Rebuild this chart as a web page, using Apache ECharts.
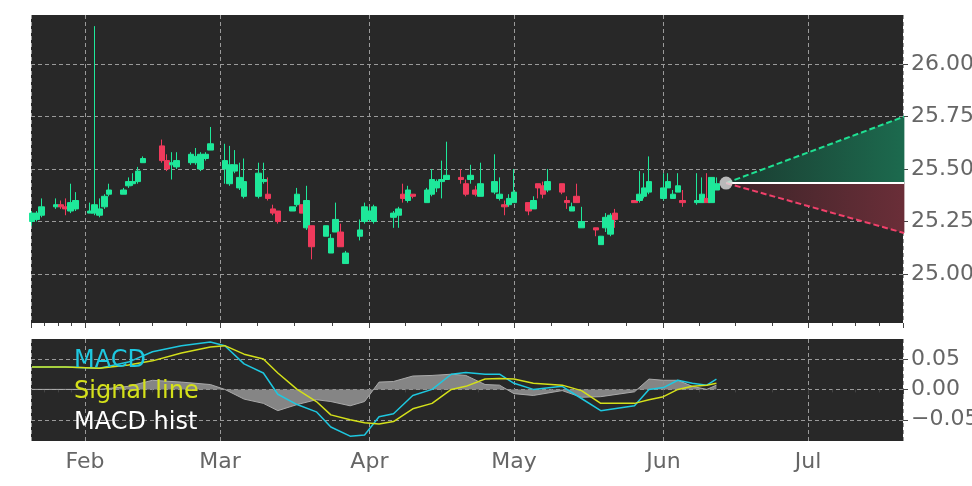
<!DOCTYPE html>
<html><head><meta charset="utf-8">
<script src="https://cdn.jsdelivr.net/npm/echarts@6/dist/echarts.min.js"></script>
<style>html,body{margin:0;padding:0;background:#fff}#c{width:972px;height:486px}</style>
</head><body><div id="c"></div>
<script>
const candleDates = ['2023-01-21','2023-01-22','2023-01-23','2023-01-26','2023-01-27','2023-01-28','2023-01-29','2023-01-30','2023-02-02','2023-02-03','2023-02-04','2023-02-05','2023-02-06','2023-02-09','2023-02-10','2023-02-11','2023-02-12','2023-02-13','2023-02-17','2023-02-18','2023-02-19','2023-02-20','2023-02-23','2023-02-24','2023-02-25','2023-02-26','2023-02-27','2023-03-02','2023-03-03','2023-03-04','2023-03-05','2023-03-06','2023-03-09','2023-03-10','2023-03-11','2023-03-12','2023-03-13','2023-03-16','2023-03-17','2023-03-18','2023-03-19','2023-03-20','2023-03-23','2023-03-24','2023-03-25','2023-03-26','2023-03-27','2023-03-30','2023-03-31','2023-04-01','2023-04-02','2023-04-06','2023-04-07','2023-04-08','2023-04-09','2023-04-10','2023-04-13','2023-04-14','2023-04-15','2023-04-16','2023-04-17','2023-04-20','2023-04-21','2023-04-22','2023-04-23','2023-04-24','2023-04-27','2023-04-28','2023-04-29','2023-04-30','2023-05-01','2023-05-04','2023-05-05','2023-05-06','2023-05-07','2023-05-08','2023-05-11','2023-05-12','2023-05-13','2023-05-14','2023-05-15','2023-05-18','2023-05-19','2023-05-20','2023-05-21','2023-05-22','2023-05-26','2023-05-27','2023-05-28','2023-05-29','2023-06-01','2023-06-02','2023-06-03','2023-06-04','2023-06-05','2023-06-08','2023-06-09','2023-06-10','2023-06-11','2023-06-12'];
// [open, close, low, high]
const ohlc = [[25.25,25.29,25.23,25.30],[25.26,25.29,25.25,25.30],[25.28,25.32,25.27,25.36],[25.32,25.33,25.31,25.36],[25.33,25.32,25.31,25.35],[25.32,25.31,25.28,25.36],[25.30,25.34,25.29,25.43],[25.31,25.35,25.30,25.39],[25.29,25.30,25.29,25.34],[25.29,25.33,25.28,26.18],[25.28,25.31,25.27,25.36],[25.32,25.37,25.31,25.38],[25.38,25.40,25.37,25.43],[25.38,25.40,25.38,25.41],[25.42,25.44,25.41,25.46],[25.43,25.44,25.42,25.48],[25.44,25.49,25.43,25.51],[25.53,25.55,25.53,25.56],[25.61,25.54,25.53,25.64],[25.54,25.50,25.49,25.57],[25.52,25.53,25.45,25.58],[25.51,25.54,25.50,25.58],[25.53,25.57,25.52,25.58],[25.53,25.56,25.52,25.60],[25.50,25.57,25.49,25.58],[25.55,25.57,25.54,25.58],[25.59,25.62,25.59,25.70],[25.50,25.54,25.43,25.62],[25.43,25.52,25.42,25.61],[25.49,25.52,25.48,25.59],[25.41,25.46,25.40,25.53],[25.37,25.44,25.36,25.55],[25.37,25.48,25.36,25.53],[25.44,25.45,25.43,25.53],[25.38,25.36,25.35,25.46],[25.31,25.29,25.28,25.33],[25.30,25.25,25.24,25.30],[25.30,25.32,25.30,25.32],[25.33,25.38,25.32,25.41],[25.33,25.29,25.29,25.33],[25.22,25.35,25.21,25.42],[25.23,25.13,25.07,25.23],[25.18,25.23,25.18,25.23],[25.10,25.17,25.10,25.19],[25.20,25.26,25.20,25.34],[25.20,25.13,25.13,25.24],[25.05,25.10,25.05,25.11],[25.18,25.21,25.16,25.26],[25.25,25.32,25.24,25.34],[25.26,25.30,25.25,25.32],[25.25,25.32,25.24,25.33],[25.27,25.29,25.22,25.30],[25.28,25.31,25.22,25.32],[25.38,25.36,25.34,25.43],[25.35,25.40,25.34,25.42],[25.38,25.37,25.36,25.38],[25.34,25.40,25.34,25.41],[25.38,25.45,25.37,25.50],[25.41,25.44,25.39,25.45],[25.44,25.45,25.36,25.54],[25.45,25.47,25.45,25.63],[25.46,25.45,25.43,25.50],[25.43,25.38,25.37,25.45],[25.45,25.47,25.43,25.52],[25.40,25.38,25.37,25.42],[25.37,25.43,25.37,25.53],[25.39,25.44,25.38,25.57],[25.36,25.38,25.35,25.46],[25.33,25.32,25.28,25.35],[25.33,25.36,25.32,25.38],[25.34,25.39,25.34,25.50],[25.34,25.30,25.28,25.34],[25.31,25.35,25.31,25.37],[25.43,25.41,25.36,25.43],[25.42,25.38,25.36,25.44],[25.40,25.44,25.39,25.50],[25.43,25.39,25.38,25.43],[25.35,25.34,25.31,25.37],[25.30,25.32,25.30,25.34],[25.37,25.34,25.34,25.43],[25.22,25.25,25.22,25.32],[25.22,25.21,25.18,25.22],[25.14,25.18,25.14,25.18],[25.22,25.27,25.20,25.29],[25.19,25.28,25.18,25.29],[25.29,25.26,25.22,25.31],[25.35,25.34,25.34,25.35],[25.35,25.38,25.34,25.49],[25.37,25.41,25.36,25.48],[25.39,25.44,25.38,25.56],[25.36,25.41,25.35,25.48],[25.41,25.44,25.41,25.48],[25.36,25.38,25.36,25.40],[25.39,25.42,25.39,25.48],[25.35,25.34,25.32,25.40],[25.34,25.35,25.33,25.48],[25.34,25.38,25.34,25.46],[25.36,25.34,25.34,25.48],[25.34,25.46,25.34,25.46],[25.40,25.43,25.40,25.46]];
const macdDates = ['2023-01-21','2023-01-28','2023-02-04','2023-02-10','2023-02-15','2023-02-21','2023-02-27','2023-03-02','2023-03-06','2023-03-10','2023-03-13','2023-03-17','2023-03-21','2023-03-24','2023-03-28','2023-03-31','2023-04-03','2023-04-06','2023-04-10','2023-04-14','2023-04-18','2023-04-21','2023-04-25','2023-04-28','2023-05-01','2023-05-05','2023-05-11','2023-05-15','2023-05-19','2023-05-26','2023-05-29','2023-06-01','2023-06-04','2023-06-07','2023-06-10','2023-06-12'];
const macdVals = [0.037,0.037,0.035,0.045,0.062,0.072,0.078,0.072,0.042,0.027,-0.008,-0.025,-0.037,-0.062,-0.077,-0.075,-0.045,-0.040,-0.010,0.000,0.025,0.028,0.025,0.025,0.010,0.000,0.005,-0.015,-0.035,-0.027,0.000,0.003,0.015,0.010,0.007,0.017];
const signalVals = [0.037,0.037,0.035,0.040,0.047,0.060,0.070,0.072,0.058,0.050,0.027,0.000,-0.020,-0.042,-0.050,-0.055,-0.057,-0.053,-0.032,-0.023,0.000,0.005,0.017,0.018,0.017,0.010,0.007,-0.002,-0.023,-0.023,-0.017,-0.012,0.000,0.005,0.007,0.010];
const histVals = [0,0,0,0.005,0.015,0.012,0.008,0,-0.016,-0.023,-0.035,-0.025,-0.017,-0.020,-0.027,-0.020,0.012,0.013,0.022,0.023,0.025,0.023,0.008,0.007,-0.007,-0.010,-0.002,-0.013,-0.012,-0.004,0.017,0.015,0.015,0.005,0,0.007];
const projDates = ['2023-06-14','2023-07-21'];
const lastClose = 25.433;
const projUp = [25.433, 25.75];
const projDown = [25.433, 25.195];
const priceTicks = [25.0, 25.25, 25.5, 25.75, 26.0];
const macdTicks = [-0.05, 0, 0.05];

const xMin = '2023-01-20T19:00:00', xMax = '2023-07-20T17:00:00';
const gridLine = {show:true, lineStyle:{color:'#9a9a9a', type:[4,3], width:1}};
const xCommon = {type:'time', min:xMin, max:xMax, minInterval:28*864e5, maxInterval:31*864e5,
  axisLine:{show:false}, axisTick:{show:true, lineStyle:{color:'#444'}, length:5},
  minorTick:{show:true, splitNumber:4, length:3, lineStyle:{color:'#444'}},
  splitLine:gridLine};
const labelFont = {color:'#666', fontSize:22, fontFamily:'DejaVu Sans'};
const chart = echarts.init(document.getElementById('c'));
const pair = (d,v)=>d.map((x,i)=>[x,v[i]]);
function tri(vals, c0, c1){
  return {type:'custom', xAxisIndex:0, yAxisIndex:0, silent:true, z:1,
    data:[0],
    renderItem:(p,api)=>{
      const a=api.coord([projDates[0],lastClose]), b=api.coord([projDates[1],vals[1]]), c=api.coord([projDates[1],lastClose]);
      return {type:'polygon', shape:{points:[a,b,c]}, style:{fill:new echarts.graphic.LinearGradient(0,0,1,0,[{offset:0,color:c0},{offset:1,color:c1}])}};
    }};
}
chart.setOption({
  animation:false, backgroundColor:'#fff',
  grid:[{left:31,right:69,top:15,height:308,backgroundColor:'#282828',show:true,borderWidth:0,containLabel:false,outerBoundsMode:'none'},
        {left:31,right:69,top:339,height:102,backgroundColor:'#282828',show:true,borderWidth:0,containLabel:false,outerBoundsMode:'none'}],
  xAxis:[Object.assign({gridIndex:0, axisLabel:{show:false}}, xCommon),
         Object.assign({gridIndex:1, axisLabel:Object.assign({show:true, formatter:'{MMM}', margin:10}, labelFont)}, xCommon)],
  yAxis:[{gridIndex:0, position:'right', min:24.767, max:26.233, axisLine:{show:false},
          axisTick:{show:true, customValues:priceTicks, lineStyle:{color:'#444'}},
          axisLabel:Object.assign({customValues:priceTicks, formatter:v=>v.toFixed(2), margin:8}, labelFont),
          splitLine:gridLine},
         {gridIndex:1, position:'right', min:-0.085, max:0.083, axisLine:{show:false},
          axisTick:{show:true, customValues:macdTicks, lineStyle:{color:'#444'}},
          axisLabel:Object.assign({customValues:macdTicks, formatter:v=>(v<0?'\u2212':'')+Math.abs(v).toFixed(2), margin:8}, labelFont),
          splitLine:gridLine}],
  graphic:[
    {type:'text', left:74, top:349, z:100, style:{text:'MACD', fill:'#1ec8e0', font:'24px DejaVu Sans'}},
    {type:'text', left:74, top:380, z:100, style:{text:'Signal line', fill:'#d4e01a', font:'24px DejaVu Sans'}},
    {type:'text', left:74, top:411, z:100, style:{text:'MACD hist', fill:'#ffffff', font:'24px DejaVu Sans'}}
  ],
  series:[
    tri(projUp,'#1b3a30','#1c6a4e'), tri(projDown,'#3a2428','#6a2e38'),
    {type:'candlestick', xAxisIndex:0, yAxisIndex:0, barWidth:6,
      data:candleDates.map((d,i)=>[d].concat(ohlc[i])),
      encode:{x:0,y:[1,2,3,4]},
      itemStyle:{color:'#1ee89a',color0:'#f03a5c',borderColor:'#1ee89a',borderColor0:'#f03a5c',borderWidth:1}},
    {type:'line', xAxisIndex:0, yAxisIndex:0, data:pair(projDates,[lastClose,lastClose]), symbol:'none', lineStyle:{color:'#fff',width:2}},
    {type:'line', xAxisIndex:0, yAxisIndex:0, data:pair(projDates,projUp), symbol:'none', lineStyle:{color:'#1fe092',width:2,type:[6,3]}},
    {type:'line', xAxisIndex:0, yAxisIndex:0, data:pair(projDates,projDown), symbol:'none', lineStyle:{color:'#f0406a',width:2,type:[6,3]}},
    {type:'scatter', xAxisIndex:0, yAxisIndex:0, data:[[projDates[0],lastClose]], symbolSize:13, itemStyle:{color:'#ddd'}, z:10},
    {type:'line', xAxisIndex:1, yAxisIndex:1, data:pair(macdDates,histVals), symbol:'none', lineStyle:{color:'#aaa',width:1}, areaStyle:{color:'#8a8a8a',opacity:0.95}},
    {type:'line', xAxisIndex:1, yAxisIndex:1, data:pair(macdDates,macdVals), symbol:'none', lineStyle:{color:'#1ec8e0',width:1.5}},
    {type:'line', xAxisIndex:1, yAxisIndex:1, data:pair(macdDates,signalVals), symbol:'none', lineStyle:{color:'#d4e01a',width:1.5}}
  ]
});
</script></body></html>
